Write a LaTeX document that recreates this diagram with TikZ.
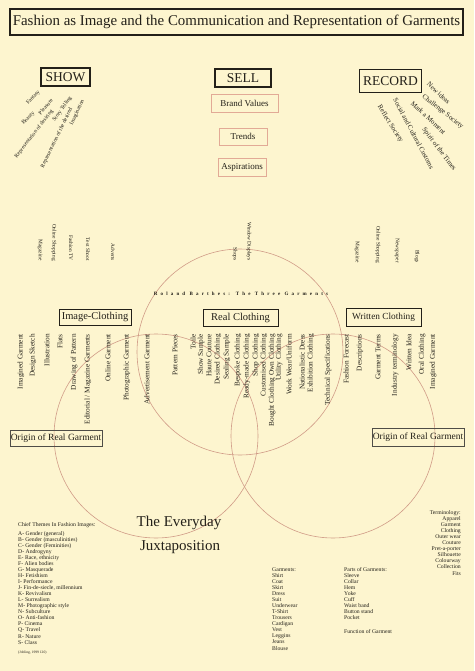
\documentclass[tikz,border=0pt]{standalone}
\usepackage{fontspec}
\setmainfont{Liberation Serif}
\definecolor{bg}{RGB}{253,245,207}
\definecolor{ringc}{RGB}{208,155,135}
\definecolor{pinkbox}{RGB}{226,170,150}
\definecolor{ink}{RGB}{35,32,25}
\newcommand{\fsz}[1]{\fontsize{#1}{#1}\selectfont}
\begin{document}
\begin{tikzpicture}[x=1pt,y=-1pt,
  every node/.style={text=ink, inner sep=0pt},
  bigbox/.style={draw=ink, line width=1.1pt, font=\fsz{13.5}},
  midbox/.style={draw=ink, line width=1pt},
  thinbox/.style={draw=ink!80, line width=0.7pt, font=\fsz{9.5}},
  pbox/.style={draw=pinkbox, line width=0.8pt, font=\fsz{9}},
  vup/.style={rotate=90, anchor=east, font=\fsz{7.3}},
  vdown/.style={rotate=-90, anchor=east, font=\fsz{5.4}},
  showlbl/.style={font=\fsz{5.6}},
  reclbl/.style={font=\fsz{6.9}},
  listtxt/.style={font=\fsz{5.7}, anchor=base west},
  listtxtr/.style={font=\fsz{5.7}, anchor=base east},
  ringline/.style={draw=ringc, line width=0.6pt}]
\fill[bg] (0,0) rectangle (474,671);
\useasboundingbox (0,0) rectangle (474,671);

% circles
\draw[ringline] (240,352) circle[radius=103pt];
\draw[ringline] (156,436) circle[radius=102pt];
\draw[ringline] (333,436) circle[radius=102pt];

% title
\node[draw=ink, line width=1.4pt, minimum width=453pt, minimum height=26pt, font=\fsz{14.9}] (title) at (236.5,22) {Fashion as Image and the Communication and Representation of Garments};

% headers
\node[bigbox, minimum width=49pt, minimum height=18pt] (show) at (65.5,77) {SHOW};
\node[bigbox, minimum width=56pt, minimum height=18pt] (sell) at (243,78) {SELL};
\node[bigbox, minimum width=62pt, minimum height=23pt] (record) at (390.5,81) {RECORD};

% sell boxes
\node[pbox, minimum width=67pt, minimum height=18pt] (brand) at (244.5,103) {Brand Values};
\node[pbox, minimum width=48pt, minimum height=17pt] (trends) at (243,136.5) {Trends};
\node[pbox, minimum width=48pt, minimum height=18pt] (asp) at (242,167) {Aspirations};

% show labels
\node[showlbl, rotate=47] (s1) at (33.3,97.7) {Fantasy};
\node[showlbl, rotate=45] (s2) at (28.3,118.3) {Beauty};
\node[showlbl, rotate=50] (s3) at (45.6,106.7) {Pleasure};
\node[showlbl, rotate=55] (s4) at (62.3,109) {Story Telling};
\node[showlbl, rotate=65] (s5) at (77.3,112.3) {Imagination};
\node[showlbl, rotate=52] (s6) at (34,134) {Representation of desiring};
\node[showlbl, rotate=64] (s7) at (56.7,138) {Representation of the desired};

% record labels
\node[reclbl, rotate=-44] (r1) at (438.7,93) {New ideas};
\node[reclbl, rotate=-38] (r2) at (442.7,111.7) {Challenge Society};
\node[reclbl, rotate=-43] (r3) at (428.3,117.7) {Mark a Moment};
\node[reclbl, rotate=-53] (r4) at (439,149.3) {Spirit of the Times};
\node[reclbl, rotate=-62] (r5) at (413.7,133.7) {Social and Cultural Customs};
\node[reclbl, rotate=-58] (r6) at (390.3,124) {Reflect Society};

% top vertical labels
\node[vdown] (t1) at (40,261) {Magazine};
\node[vdown] (t2) at (54,261) {Online Shopping};
\node[vdown] (t3) at (71,261) {Fashion TV};
\node[vdown] (t4) at (88,261) {Test Shoot};
\node[vdown] (t5) at (113,261) {Adverts};
\node[vdown] (t6) at (235,261) {Shops};
\node[vdown] (t7) at (249,261) {Window Displays};
\node[vdown] (t8) at (357,263) {Magazine};
\node[vdown] (t9) at (378,263) {Online Shopping};
\node[vdown] (t10) at (397,263) {Newspaper};
\node[vdown] (t11) at (417,263) {Blogs};

% Barthes
\node[font=\fsz{5}\bfseries\addfontfeature{LetterSpace=63}] (barthes) at (241,294) {Roland Barthes: The Three Garments};

% garment boxes
\node[midbox, minimum width=72pt, minimum height=16pt, font=\fsz{10.5}] (image) at (95,317) {Image-Clothing};
\node[midbox, minimum width=75pt, minimum height=17pt, font=\fsz{10.5}] (real) at (240.5,317.5) {Real Clothing};
\node[midbox, minimum width=75pt, minimum height=18pt, font=\fsz{9.3}] (written) at (383.5,317) {Written Clothing};
\node[thinbox, minimum width=92pt, minimum height=16pt] (originl) at (56,438) {Origin of Real Garment};
\node[thinbox, minimum width=92pt, minimum height=18pt] (originr) at (418,437) {Origin of Real Garment};

% lower vertical labels
\foreach \x/\t in {21/{Imagined Garment}, 33/{Design Sketch}, 47/{Illustration}, 60/{Flats}, 74/{Drawing of Pattern}, 88/{Editorial / Magazine Garments}, 108/{Online Garment}, 127/{Photographic Garment}, 147/{Advertisement Garment}, 175/{Pattern Pieces}, 193/{Toile}, 201/{Show Sample}, 209/{Haute Couture}, 218/{Desired Clothing}, 227/{Sealing Sample}, 238/{Bespoke Clothing}, 247/{Ready-made Clothing}, 256/{Shop Clothing}, 264/{Customised Clothing}, 272/{Bought Clothing Own Clothing}, 279/{Utility Clothing}, 289/{Work Wear/Uniform}, 302/{Nationalistic Dress}, 311/{Exhibition Clothing}, 328/{Technical Specifications}, 346/{Fashion Forecast}, 360/{Descriptions}, 378/{Garment Terms}, 395/{Industry terminology}, 409/{Written Idea}, 422/{Oral Clothing}, 433/{Imagined Garment}}
  \node[vup] at (\x,334) {\t};

% juxtaposition
\node[font=\fsz{15}] (every) at (179,523) {The Everyday};
\node[font=\fsz{15}] (juxt) at (180,547) {Juxtaposition};

% chief themes
\node[listtxt] (chief) at (18,526) {Chief Themes In Fashion Images:};
\foreach \t [count=\i from 0] in {A- Gender (general), B- Gender (masculinities), C- Gender (Feminities), D- Androgyny, {E- Race, ethnicity}, F- Alien bodies, G- Masquerade, H- Fetishism, I- Performance, {J- Fin-de-siecle, millennium}, K- Revivalism, L- Surrealism, M- Photographic style, N- Subculture, O- Anti-fashion, P- Cinema, Q- Travel, R- Nature, S- Class}
  \node[listtxt] at (18,{535+6.06*\i}) {\t};
\node[listtxt, font=\fsz{3.6}] (cite) at (18,653) {(Jobling, 1999 120)};

% garments
\foreach \t [count=\i from 0] in {Garments:, Shirt, Coat, Skirt, Dress, Suit, Underwear, T-Shirt, Trousers, Cardigan, Vest, Leggins, Jeans, Blouse}
  \node[listtxt] at (272,{571+6.08*\i}) {\t};

% parts
\foreach \t [count=\i from 0] in {Parts of Garments:, Sleeve, Collar, Hem, Yoke, Cuff, Waist band, Button stand, Pocket}
  \node[listtxt] at (344,{571+6.1*\i}) {\t};
\node[listtxt] (func) at (344,633) {Function of Garment};

% terminology
\foreach \t [count=\i from 0] in {Terminology:, Apparel, Garment, Clothing, Outer wear, Couture, Pret-a-porter, Silhouette, Colourway, Collection, Fits}
  \node[listtxtr] at (461,{514+6.1*\i}) {\t};
\end{tikzpicture}
\end{document}
